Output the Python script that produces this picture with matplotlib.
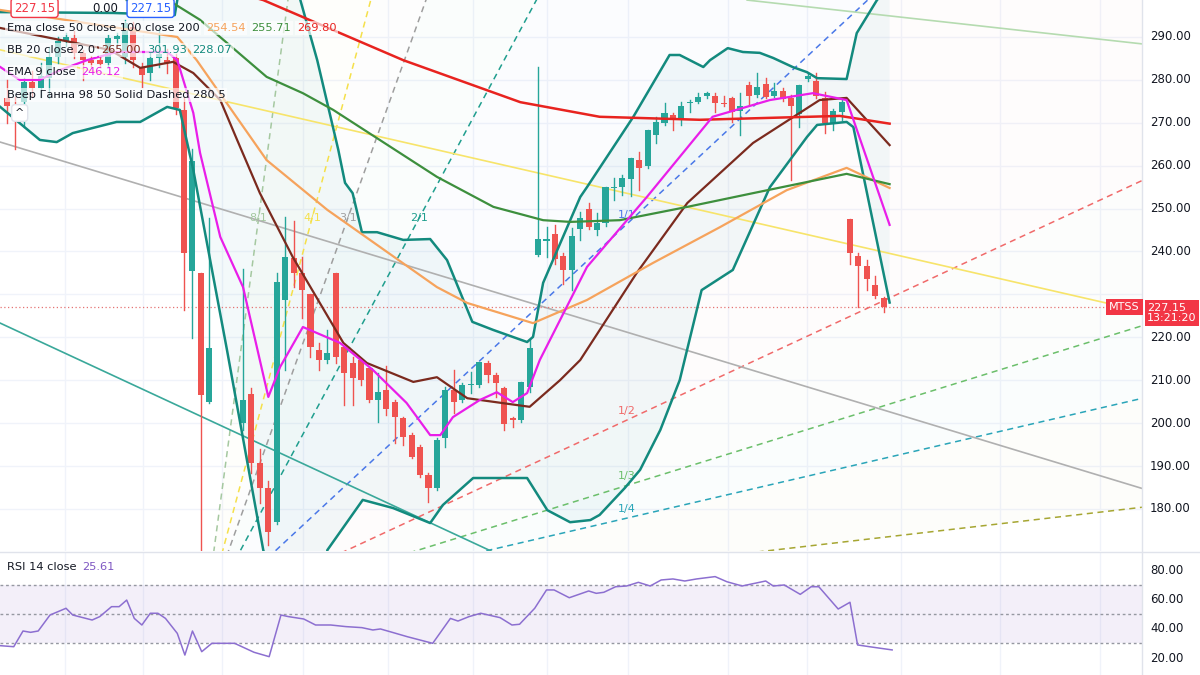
import numpy as np
import matplotlib
matplotlib.use("Agg")
import matplotlib.pyplot as plt

# ---- candles (bar index, open, high, low, close) ----
bar_idx = list(range(0, 25)) + list(range(28, 105))
opens = [275.7, 274.2, 274.9, 279.6, 278.0, 280.4, 285.4, 289.0, 289.7, 286.2,
         284.6, 284.6, 283.9, 289.5, 285.4, 292.4, 283.1, 281.5, 285.0, 284.6,
         285.0, 273.0, 235.5, 234.9, 205.0,
         200.0, 206.8, 190.7, 184.9, 177.0, 228.7, 238.4, 234.9, 230.2, 217.0,
         214.7, 234.9, 217.8, 214.0, 214.7, 212.8, 205.4, 207.7, 205.0, 201.1,
         197.2, 194.5, 187.9, 184.8, 196.5, 207.7, 205.4, 208.9, 208.9, 214.0,
         211.2, 208.1, 201.1, 200.7, 208.5, 239.2, 242.4, 244.1, 239.0, 235.8,
         245.2, 249.9, 245.0, 246.6, 254.7, 255.0, 256.9, 261.3, 259.9, 267.2,
         269.9, 271.8, 270.7, 274.5, 274.9, 276.2, 276.2, 274.7, 275.7, 272.8,
         278.8, 276.5, 279.0, 276.2, 277.4, 275.7, 272.0, 280.1, 279.8, 275.7,
         269.9, 272.6, 247.5, 239.0, 236.6, 232.2, 229.1]
highs = [280.0, 276.0, 280.4, 282.0, 284.0, 287.7, 290.0, 291.0, 291.5, 287.0,
         285.5, 285.5, 290.5, 291.0, 294.0, 293.5, 284.0, 286.5, 292.0, 287.3,
         286.0, 276.0, 264.0, 235.0, 247.7,
         236.0, 208.2, 194.0, 186.5, 234.9, 248.1, 247.0, 238.8, 230.2, 218.6,
         221.7, 234.9, 217.8, 215.5, 214.7, 212.8, 211.6, 213.2, 205.4, 201.5,
         197.6, 194.9, 188.3, 196.5, 208.5, 212.4, 209.3, 212.0, 214.3, 214.4,
         211.6, 208.5, 201.5, 209.6, 219.4, 283.0, 245.8, 246.2, 239.6, 245.4,
         249.3, 251.4, 248.9, 255.1, 257.1, 257.8, 261.7, 263.3, 268.3, 271.4,
         274.5, 272.2, 274.9, 275.3, 276.9, 277.2, 276.9, 276.2, 275.9, 276.9,
         279.4, 281.5, 280.4, 279.2, 278.0, 276.5, 278.8, 281.5, 281.5, 277.2,
         273.1, 275.5, 247.5, 239.6, 238.0, 234.2, 229.4]
lows = [270.0, 264.0, 269.1, 276.0, 276.0, 275.7, 284.0, 288.0, 285.0, 280.0,
        283.0, 283.0, 283.0, 288.0, 284.0, 283.0, 278.4, 280.0, 283.0, 281.5,
        272.0, 226.4, 219.8, 165.0, 204.6,
        198.4, 188.4, 181.4, 171.6, 176.5, 212.4, 231.8, 224.4, 215.5, 212.4,
        214.0, 214.0, 204.2, 204.2, 208.9, 205.0, 200.3, 201.9, 195.3, 194.9,
        191.8, 187.5, 181.7, 184.4, 194.5, 202.3, 205.0, 207.0, 208.5, 209.6,
        206.2, 198.4, 199.2, 200.3, 207.3, 239.0, 238.8, 237.1, 232.4, 231.0,
        242.7, 245.2, 243.8, 246.0, 252.0, 253.2, 252.9, 254.3, 259.5, 265.2,
        269.5, 268.3, 269.5, 272.6, 274.5, 275.8, 272.6, 273.9, 270.3, 267.2,
        274.2, 276.0, 275.8, 276.0, 275.0, 256.7, 269.1, 279.8, 275.8, 267.7,
        268.3, 270.7, 237.2, 227.1, 231.0, 229.1, 226.0]
closes = [273.8, 273.4, 279.6, 278.0, 281.0, 285.4, 289.0, 290.0, 286.2, 284.6,
          283.9, 283.7, 289.7, 290.2, 293.2, 284.6, 281.1, 285.0, 286.0, 283.9,
          273.4, 239.6, 261.0, 206.5, 217.4,
          205.5, 190.7, 184.9, 174.6, 232.9, 238.8, 234.9, 231.0, 217.8, 214.7,
          216.3, 215.5, 211.6, 210.4, 210.0, 205.4, 207.3, 203.4, 201.5, 196.8,
          192.2, 187.9, 184.8, 196.1, 207.7, 205.0, 208.9, 209.1, 214.3, 211.2,
          209.3, 199.9, 200.7, 209.6, 217.4, 242.9, 242.9, 238.2, 235.8, 243.5,
          247.7, 245.6, 246.7, 255.1, 254.9, 257.1, 261.7, 259.4, 268.3, 270.3,
          272.2, 270.7, 273.9, 274.9, 275.9, 277.0, 274.7, 274.3, 272.6, 273.8,
          276.2, 278.3, 276.1, 277.5, 275.5, 273.8, 278.8, 280.9, 276.2, 269.9,
          272.8, 274.9, 239.7, 236.6, 233.7, 229.6, 227.1]

# ---- indicator lines (bar index, price) ----
ema50_x = [-0.8, 20.2, 22.5, 30.8, 38.0, 51.0, 54.6, 62.4, 68.8, 76.6, 84.6, 92.5, 99.6, 104.7]
ema50_y = [296.3, 290.0, 284.6, 261.3, 249.7, 231.7, 228.0, 223.3, 228.7, 237.3, 245.7, 254.3, 259.5, 254.8]
ema100_x = [14.2, 19.7, 22.9, 30.8, 35.1, 38.7, 51.0, 57.7, 63.6, 66.8, 72.7, 80.7, 88.5, 99.6, 104.7]
ema100_y = [298.6, 297.9, 294.0, 280.7, 276.9, 273.0, 257.4, 250.4, 247.3, 246.9, 247.3, 250.4, 253.6, 258.1, 255.7]
ema200_x = [26.0, 30.4, 47.0, 60.9, 70.3, 82.2, 98.8, 104.7]
ema200_y = [301.0, 298.6, 284.6, 274.8, 271.4, 270.7, 271.6, 269.8]
ema9_x = [-0.8, 1.5, 3.9, 6.3, 9.5, 13.0, 19.0, 20.2, 22.1, 22.9, 25.3, 28.0, 31.0, 32.4,
          35.1, 39.5, 43.4, 47.4, 50.2, 51.4, 52.9, 56.1, 58.1, 60.0, 61.7, 63.2, 65.6,
          68.8, 75.9, 83.7, 90.5, 95.6, 99.6, 104.7]
ema9_y = [283.0, 280.0, 280.0, 282.3, 284.6, 286.5, 286.5, 284.6, 272.3, 263.0, 243.4, 231.7,
          206.1, 213.1, 222.4, 218.7, 212.4, 204.7, 197.2, 197.2, 201.4, 205.4, 207.2, 204.9,
          207.0, 214.7, 224.0, 236.4, 252.7, 271.4, 275.3, 276.9, 275.3, 246.2]
bb_mid_x = [-0.8, 12.2, 15.8, 19.7, 22.1, 25.3, 27.3, 30.0, 33.9, 39.9, 42.7, 48.2, 51.0, 54.6,
            62.0, 65.6, 68.0, 74.7, 80.7, 88.5, 96.4, 99.6, 104.7]
bb_mid_y = [292.1, 287.0, 282.8, 284.2, 281.6, 275.3, 266.0, 253.6, 238.7, 218.7, 214.0, 209.6,
            210.7, 205.8, 203.8, 210.0, 214.7, 235.0, 251.3, 265.3, 275.3, 275.8, 264.8]
bb_up_x = [-0.8, 12.6, 19.9, 20.2, 20.6, 33.6, 34.8, 36.8, 39.3, 40.1, 41.0, 42.1, 43.9, 47.0,
           50.2, 52.2, 55.2, 57.7, 61.7, 62.4, 63.6, 68.0, 68.8, 74.3, 78.6, 79.8, 82.6, 83.4,
           85.5, 87.3, 89.3, 90.9, 93.2, 94.9, 96.1, 99.6, 100.8, 103.2, 104.7]
bb_up_y = [295.8, 295.6, 295.1, 298.6, 312.0, 312.0, 298.6, 284.6, 263.7, 256.0, 253.6, 244.5,
           244.5, 242.7, 242.9, 238.0, 223.6, 221.7, 218.9, 220.1, 232.7, 252.7, 255.0, 271.4,
           285.8, 285.8, 283.0, 284.6, 287.4, 286.5, 286.3, 285.1, 283.0, 281.8, 280.4, 280.2,
           290.9, 298.6, 301.9]
bb_lo_x = [-0.8, 3.9, 5.9, 7.8, 13.0, 15.8, 19.0, 20.5, 22.1, 26.1, 30.4, 33.6, 37.1, 38.0,
           42.2, 45.8, 50.2, 51.7, 55.3, 61.7, 64.1, 66.8, 69.2, 70.3, 73.3, 75.1, 77.5, 79.8,
           82.4, 86.1, 90.5, 94.9, 96.1, 99.6, 100.4, 104.7]
bb_lo_y = [273.7, 266.0, 265.5, 267.6, 270.2, 270.2, 273.7, 273.0, 259.0, 217.0, 170.4, 150.0,
           150.0, 170.4, 182.1, 180.2, 176.7, 180.9, 187.2, 187.2, 179.7, 176.9, 177.4, 178.6,
           184.9, 189.1, 198.4, 210.0, 231.0, 235.7, 255.0, 266.7, 269.5, 270.2, 269.0, 228.1]

# ---- drawings ----
gann_origin = (23.5, 155.0)
gann_unit = 1.827
gann_ratios = [8, 4, 3, 2, 1, 1 / 2, 1 / 3, 1 / 4, 1 / 8]
gann_labels = ["8/1", "4/1", "3/1", "2/1", "1/1", "1/2", "1/3", "1/4", ""]
gann_colors = ["#a5c8a0", "#f5e04a", "#9e9e9e", "#1f9e8e", "#4a78e8",
               "#f06a6a", "#6bbf6b", "#2aa5b8", "#a6a632"]
trend_lines = [  # (x0, y0, x1, y1, color)
    (-0.8, 265.5, 134.6, 184.8, "#b0b0b0"),
    (-0.8, 223.3, 57.4, 170.2, "#3aa89a"),
    (-0.8, 287.0, 134.6, 226.1, "#f7e46a"),
    (87.8, 298.6, 134.6, 288.4, "#b5dbb0"),
]

# ---- RSI ----
rsi_x = [-0.8, 0.8, 1.9, 2.8, 3.7, 5.1, 7.0, 7.8, 10.1, 11.0, 12.4, 13.3, 14.2, 15.1, 16.0,
         17.0, 17.9, 18.8, 20.2, 21.1, 22.0, 23.1, 24.3, 27.0, 29.3, 31.1, 32.5, 33.4, 35.2,
         36.6, 38.4, 40.2, 42.1, 43.4, 44.3, 45.7, 47.5, 50.5, 52.6, 53.5, 54.8, 56.2, 58.5,
         59.9, 60.8, 62.6, 64.0, 64.9, 66.7, 69.0, 69.9, 70.8, 72.2, 73.5, 74.9, 76.3, 77.6,
         79.0, 80.4, 81.8, 84.0, 85.4, 87.2, 90.0, 90.9, 92.2, 94.1, 95.4, 96.3, 98.6, 100.0,
         100.9, 102.3, 105.0]
rsi_y = [28.4, 27.7, 38.4, 37.5, 38.4, 49.3, 53.9, 49.3, 45.9, 48.2, 55.0, 55.0, 59.5, 47.0,
         42.5, 50.5, 50.5, 47.0, 36.8, 22.0, 38.4, 24.3, 30.0, 30.0, 23.9, 20.9, 49.3, 48.2,
         46.6, 42.5, 42.5, 41.4, 40.7, 39.1, 39.8, 37.5, 34.5, 30.0, 47.0, 45.2, 48.2, 50.5,
         47.5, 42.5, 43.0, 53.9, 66.4, 66.4, 61.1, 65.7, 64.1, 64.8, 68.6, 69.1, 71.6, 69.1,
         73.2, 73.9, 72.5, 73.9, 75.5, 72.0, 69.1, 72.5, 69.1, 69.8, 63.4, 68.6, 68.6, 53.4,
         58.0, 28.9, 27.7, 25.5]

last_price = 227.15
GREEN, RED = "#26a69a", "#ef5350"
XMIN, XMAX = -0.83, 134.64
W, H = 1200, 675

fig = plt.figure(figsize=(12, 6.75), dpi=100)
ax = fig.add_axes([0, 1 - 551 / H, 1142 / W, 551 / H])
rx = fig.add_axes([0, 0, 1142 / W, 122 / H])
for a in (ax, rx):
    a.set_xlim(XMIN, XMAX)
    a.set_xticks([])
    for s in a.spines.values():
        s.set_visible(False)
    for gx in [6.9, 16.1, 25.5, 35.1, 45.2, 55.3, 64.0, 73.7, 85.5, 94.9, 106.0, 117.8, 129.7]:
        a.axvline(gx, color="#f0f3fa", lw=1, zorder=0)
ax.set_ylim(170.19, 298.62)
ax.set_yticks([])
for p in range(180, 300, 10):
    ax.axhline(p, color="#f0f3fa", lw=1, zorder=0)

# gann fan
gx = np.array([gann_origin[0], XMAX])
fan = [gann_origin[1] + r * gann_unit * (gx - gann_origin[0]) for r in gann_ratios]
for k in range(len(fan) - 1):
    ax.fill_between(gx, fan[k], fan[k + 1], color=gann_colors[k + 1], alpha=0.018, lw=0, zorder=0.5)
for y, c in zip(fan, gann_colors):
    ax.plot(gx, y, color=c, lw=1.1, ls=(0, (4, 3)), zorder=1)
for r, lab, c in zip(gann_ratios, gann_labels, gann_colors):
    if not lab:
        continue
    if r > 1:
        lx = gann_origin[0] + (247.8 - gann_origin[1]) / (r * gann_unit)
        ax.text(lx, 247.8, lab, color=c, fontsize=8, ha="center", va="center", zorder=2)
    else:
        ly = gann_origin[1] + r * gann_unit * (73.5 - gann_origin[0])
        ax.text(73.5, ly + 2.2, lab, color=c, fontsize=8, ha="center", va="center", zorder=2)

for x0, y0, x1, y1, c in trend_lines:
    ax.plot([x0, x1], [y0, y1], color=c, lw=1.2, zorder=1)

# bollinger fill
ax.fill(bb_up_x + bb_lo_x[::-1], bb_up_y + bb_lo_y[::-1], color="#2196a0", alpha=0.05, lw=0, zorder=0.6)

# candles
for i, o, h, l, c in zip(bar_idx, opens, highs, lows, closes):
    col = GREEN if c >= o else RED
    ax.plot([i, i], [l, h], color=col, lw=1, zorder=3)
    lo, hi = min(o, c), max(o, c)
    ax.bar(i, max(hi - lo, 0.3), bottom=lo, width=0.72, color=col, lw=0, zorder=3)

ax.plot(bb_up_x, bb_up_y, color="#138a7e", lw=1.8, zorder=4)
ax.plot(bb_lo_x, bb_lo_y, color="#138a7e", lw=1.8, zorder=4)
ax.plot(bb_mid_x, bb_mid_y, color="#7b2a1e", lw=1.6, zorder=4)
ax.plot(ema50_x, ema50_y, color="#f6a35c", lw=1.6, zorder=4)
ax.plot(ema100_x, ema100_y, color="#3d8f3d", lw=1.6, zorder=4)
ax.plot(ema200_x, ema200_y, color="#e8231f", lw=1.8, zorder=4)
ax.plot(ema9_x, ema9_y, color="#e91ee9", lw=1.6, zorder=4)
ax.axhline(last_price, color="#e57373", lw=0.9, ls=(0, (1, 2)), zorder=2)

# RSI pane
rx.set_ylim(8.4, 91.6)
rx.set_yticks([])
rx.axhspan(30, 70, color="#7e57c2", alpha=0.09, lw=0)
for lv in (70, 50, 30):
    rx.axhline(lv, color="#9598a1", lw=1, ls=(0, (2, 2)))
rx.plot(rsi_x, rsi_y, color="#8c6fd0", lw=1.1)

# panel separators / axis
fig.add_artist(plt.Line2D([1142 / W, 1142 / W], [0, 1], color="#e0e3eb", lw=1))
fig.add_artist(plt.Line2D([0, 1], [1 - 552 / H] * 2, color="#e0e3eb", lw=1))


def px(x, y):
    return x / W, 1 - y / H


for p in range(180, 300, 10):
    yy = 37 + (290 - p) * 4.29
    if abs(p - last_price) < 4:
        continue
    fig.text(*px(1150, yy), f"{p:.2f}", fontsize=8.5, color="#131722", va="center")
fig.text(*px(1147, 313), "227.15\n13:21:20", fontsize=8, color="white", va="center",
         linespacing=1.1, bbox=dict(boxstyle="square,pad=0.2", fc="#f23645", ec="none"))
fig.text(*px(1109, 307), "MTSS", fontsize=8, color="white", va="center",
         bbox=dict(boxstyle="square,pad=0.3", fc="#f23645", ec="none"))
for v in (80, 60, 40, 20):
    fig.text(*px(1150, 570 + (80 - v) * 1.4667), f"{v:.2f}", fontsize=8.5, color="#131722", va="center")

# legend: parts placed one after another using rendered widths
renderer = fig.canvas.get_renderer()


def chain(x, y, parts, size=8.2, bbox=None):
    for t, c in parts:
        txt = fig.text(*px(x, y), t, fontsize=size, color=c, va="center", bbox=bbox, zorder=10)
        x = txt.get_window_extent(renderer).x1 + 6


fig.text(*px(14, 8), "227.15", fontsize=8.5, color="#f23645", va="center",
         bbox=dict(boxstyle="round,pad=0.25", fc="white", ec="#f23645"))
fig.text(*px(92, 8), "0.00", fontsize=8.5, color="#131722", va="center")
fig.text(*px(130, 8), "227.15", fontsize=8.5, color="#2962ff", va="center",
         bbox=dict(boxstyle="round,pad=0.25", fc="white", ec="#2962ff"))
bb = dict(boxstyle="square,pad=0.15", fc="white", ec="none", alpha=0.65)
chain(7, 28, [("Ema close 50 close 100 close 200", "#131722"), ("254.54", "#f6a35c"),
              ("255.71", "#3d8f3d"), ("269.80", "#e8231f")], bbox=bb)
chain(7, 50, [("BB 20 close 2 0", "#131722"), ("265.00", "#7b2a1e"),
              ("301.93", "#138a7e"), ("228.07", "#138a7e")], bbox=bb)
chain(7, 72, [("EMA 9 close", "#131722"), ("246.12", "#e91ee9")], bbox=bb)
chain(7, 95, [("Веер Ганна 98 50 Solid Dashed 280 5", "#131722")], bbox=bb)
fig.text(*px(15, 113), "^", fontsize=8, color="#131722", va="center",
         bbox=dict(boxstyle="round,pad=0.3", fc="white", ec="#e0e3eb"))
chain(7, 567, [("RSI 14 close", "#131722"), ("25.61", "#7e57c2")])

fig.savefig("out.png", dpi=100)
